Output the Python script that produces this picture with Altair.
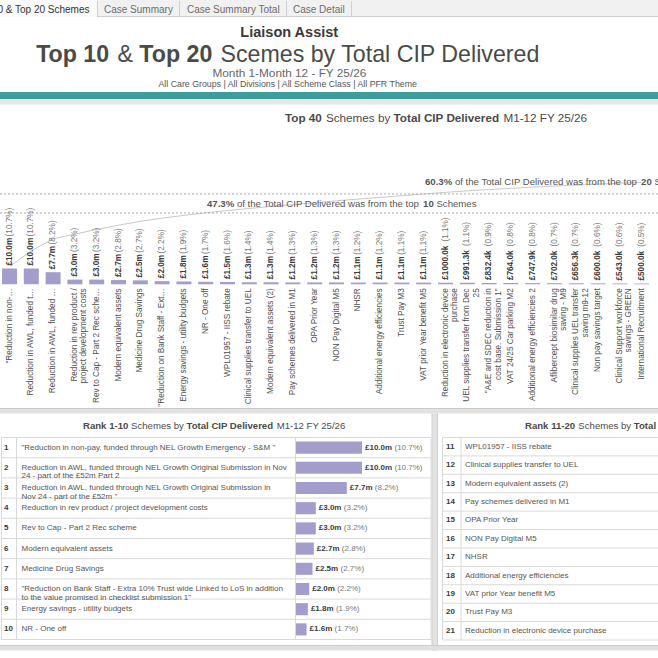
import altair as alt
import pandas as pd

FONT = "Liberation Sans"

# ---------------- data ----------------
tabs = ["Top 10 & Top 20 Schemes", "Case Summary", "Case Summary Total", "Case Detail"]

ranks = list(range(1, 31))
scheme_labels = [
    '"Reduction in non-…',
    'Reduction in AWL, funded t…',
    'Reduction in AWL, funded …',
    'Reduction in rev product /\nproject development costs',
    'Rev to Cap - Part 2 Rec sche…',
    'Modern equivalent assets',
    'Medicine Drug Savings',
    '"Reduction on Bank Staff - Ext…',
    'Energy savings - utility budgets',
    'NR - One off',
    'WPL01957 - IISS rebate',
    'Clinical supplies transfer to UEL',
    'Modern equivalent assets (2)',
    'Pay schemes delivered in M1',
    'OPA Prior Year',
    'NON Pay Digital M5',
    'NHSR',
    'Additional energy efficiencies',
    'Trust Pay M3',
    'VAT prior Year benefit  M5',
    'Reduction in electronic device\npurchase',
    'UEL supplies transfer from Dec\n25',
    '"A&E and SDEC reduction in\ncost base. Submission 1"',
    'VAT 24/25 Car parking M2',
    'Additional energy efficiencies 2',
    'Aflibercept biosimilar drug\nsaving - M9',
    'Clinical supplies UEL transfer\nsaving m9-12',
    'Non pay savings target',
    'Clinical Support workforce\nsavings - GREEN',
    'International Recruitment',
]
values_m = [10.0, 10.0, 7.7, 3.0, 3.0, 2.7, 2.5, 2.0, 1.8, 1.6,
            1.5, 1.3, 1.3, 1.2, 1.2, 1.2, 1.1, 1.1, 1.1, 1.1,
            1.0, 0.9913, 0.8324, 0.764, 0.7479, 0.702, 0.6563, 0.600, 0.543, 0.500]
value_text = ["£10.0m", "£10.0m", "£7.7m", "£3.0m", "£3.0m", "£2.7m", "£2.5m", "£2.0m", "£1.8m", "£1.6m",
              "£1.5m", "£1.3m", "£1.3m", "£1.2m", "£1.2m", "£1.2m", "£1.1m", "£1.1m", "£1.1m", "£1.1m",
              "£1000.0k", "£991.3k", "£832.4k", "£764.0k", "£747.9k", "£702.0k", "£656.3k", "£600.0k",
              "£543.0k", "£500.0k"]
pct_share = [10.7, 10.7, 8.2, 3.2, 3.2, 2.8, 2.7, 2.2, 1.9, 1.7,
             1.6, 1.4, 1.4, 1.3, 1.3, 1.3, 1.2, 1.2, 1.1, 1.1,
             1.1, 1.1, 0.9, 0.8, 0.8, 0.7, 0.7, 0.6, 0.6, 0.5]
total_cip_m = 93.5
ref_top_n = [10, 20]
ref_share = [47.3, 60.3]

table1_ranks = list(range(1, 11))
table1_names = [
    '"Reduction in non-pay, funded through NEL Growth Emergency - S&M "',
    'Reduction in AWL, funded through NEL Growth Original Submission in Nov\n24 - part of the £52m  Part 2',
    'Reduction in AWL, funded through NEL Growth Original Submission in\nNov 24 - part of the £52m "',
    'Reduction in rev product / project development costs',
    'Rev to Cap - Part 2 Rec scheme',
    'Modern equivalent assets',
    'Medicine Drug Savings',
    '"Reduction on Bank Staff - Extra 10% Trust wide Linked to LoS in addition\nto the value promised in checklist submission 1"',
    'Energy savings - utility budgets',
    'NR - One off',
]
table2_ranks = list(range(11, 22))
table2_names = [
    'WPL01957 - IISS rebate', 'Clinical supplies transfer to UEL', 'Modern equivalent assets (2)',
    'Pay schemes delivered in M1', 'OPA Prior Year', 'NON Pay Digital M5', 'NHSR',
    'Additional energy efficiencies', 'VAT prior Year benefit  M5', 'Trust Pay M3',
    'Reduction in electronic device purchase',
]

# ---------------- text width helper (Arial metrics) ----------------
def _table(groups):
    d = {}
    for chars, w in groups:
        for c in chars:
            d[c] = w
    return d

REG = _table([
    ("0123456789abdeghnopquL£?$#", 556), (" !,./:;ftI", 278), ("ijl'", 222), ("-()r", 333),
    ("cksvxyzJ", 500), ("+=<>", 584), ("FTZ", 611), ("ABEKPSVXY&", 667), ("CDHNRUw", 722),
    ("GOQ", 778), ("Mm", 833), ("%", 889), ("W", 944), ('"', 355), ("|", 260), ("…", 1000)])
BOLD = _table([
    ("0123456789acekvsxy£J", 556), (" ,./;Iijl", 278), ("-()tf!:", 333), ("r", 389), ('"', 474),
    ("z", 500), ("bdghnopquFTZL", 611), ("EPSVXY", 667), ("ABCDHKNRU&", 722), ("GOQw", 778),
    ("M", 833), ("m%", 889), ("W", 944), ("|", 280), ("…", 1000)])


def tw(s, size, bold=False):
    t = BOLD if bold else REG
    return sum(t.get(c, 556) for c in s) * size / 1000.0


one = pd.DataFrame({"k": [0]})


def rect(x, x2, y, y2, color):
    return alt.Chart(one).mark_rect(color=color).encode(
        x=alt.value(x), x2=alt.value(x2), y=alt.value(y), y2=alt.value(y2))


def hline(x, x2, y, color, width=1.0, dash=None):
    kw = dict(color=color, strokeWidth=width)
    if dash:
        kw["strokeDash"] = dash
    return alt.Chart(one).mark_rule(**kw).encode(x=alt.value(x), x2=alt.value(x2), y=alt.value(y))


def vline(x, y, y2, color, width=1.0):
    return alt.Chart(one).mark_rule(color=color, strokeWidth=width).encode(
        x=alt.value(x), y=alt.value(y), y2=alt.value(y2))


def rich(pieces, x0, size, color, y_enc, data=None, dy=0, center=False):
    total = sum(tw(t, size, b) for t, b in pieces)
    cur = x0 - total / 2.0 if center else x0
    out = []
    for t, b in pieces:
        lead = len(t) - len(t.lstrip(" "))
        px = cur + tw(" " * lead, size, b)
        out.append(
            alt.Chart(one if data is None else data).mark_text(
                text=t.strip(" "), font=FONT, fontSize=size,
                fontWeight="bold" if b else "normal", color=color,
                align="left", baseline="alphabetic", dy=dy,
            ).encode(x=alt.value(px), y=y_enc)
        )
        cur += tw(t, size, b)
    return out


layers = []

# ---------------- page chrome ----------------
layers.append(rect(0, 658, 0, 17, "#f1f1f1"))
layers.append(rect(0, 97, 0, 17, "#fbfbfb"))
layers.append(hline(97, 658, 16.5, "#cdcdcd"))
for xs in [97, 179, 286, 351]:
    layers.append(vline(xs + 0.5, 1, 16.5, "#d0d0d0"))
layers.append(alt.Chart(one).mark_text(text=tabs[0], font=FONT, fontSize=10, color="#333333",
                                       align="right", baseline="alphabetic")
              .encode(x=alt.value(89.5), y=alt.value(12.5)))
for t, xs in zip(tabs[1:], [104, 187, 293]):
    layers.append(alt.Chart(one).mark_text(text=t, font=FONT, fontSize=10, color="#6d6d6d",
                                           align="left", baseline="alphabetic")
                  .encode(x=alt.value(xs), y=alt.value(12.5)))

layers += rich([("Liaison Assist", True)], 289.5, 14.5, "#3a3a3a", alt.value(37.3), center=True)
layers += rich([("Top 10", True), (" & ", False), ("Top 20", True), (" Scemes by Total CIP Delivered", False)],
               289.5, 23.2, "#4a4a4a", alt.value(61.5), center=True)
layers += rich([("Month 1-Month 12 - FY 25/26", False)], 289.5, 11.8, "#666666", alt.value(76.5), center=True)
layers += rich([("All Care Groups | All Divisions | All Scheme Class | All PFR Theme", False)],
               288.5, 8.8, "#555555", alt.value(87), center=True)

layers.append(rect(0, 658, 92, 99, "#3b9d9c"))
layers.append(rect(0, 658, 99, 104.5, "#e6e6e6"))
layers.append(rect(0, 658, 408, 413.5, "#e3e3e3"))
layers.append(hline(0, 658, 408.5, "#c9c9c9"))
layers.append(rect(432, 437.5, 413.5, 651, "#e3e3e3"))
layers.append(rect(0, 658, 645.5, 650.5, "#e0e0e0"))
layers.append(vline(432, 413.5, 646, "#cfcfcf"))
layers.append(vline(437.5, 413.5, 646, "#cfcfcf"))
layers.append(hline(0, 658, 645.5, "#cccccc"))

# ---------------- Top 40 bar chart ----------------
BASE = 284.3
PX_PER_M = 1.57
CUM_BASE = 282.1
PX_PER_PCT = 1.4615


def XB():
    return alt.Scale(domain=[0.5, 30.5], range=[-1.4, 652.6], nice=False, zero=False)


def YB():
    return alt.Scale(domain=[0, 100], range=[BASE, BASE - 100 * PX_PER_M], nice=False, zero=False)


def YC():
    return alt.Scale(domain=[0, 100], range=[CUM_BASE, CUM_BASE - 100 * PX_PER_PCT], nice=False, zero=False)


layers += rich([("Top 40", True), (" Schemes by ", False), ("Total CIP Delivered", True), (" M1-12 FY 25/26", False)],
               285, 11.7, "#4a4a4a", alt.value(122))

bars_df = pd.DataFrame({"rank": ranks, "label": scheme_labels, "value": values_m,
                        "vtxt": value_text, "pct": pct_share})
ref_df = pd.DataFrame({"share": ref_share, "n": ref_top_n})

layers.append(
    alt.Chart(bars_df)
    .transform_window(cum="sum(value)", sort=[alt.SortField("rank")])
    .transform_calculate(cum_pct=f"datum.cum / {total_cip_m} * 100")
    .mark_line(color="#c8c8c8", strokeWidth=1)
    .encode(x=alt.X("rank:Q", scale=XB(), axis=None), y=alt.Y("cum_pct:Q", scale=YC(), axis=None))
)
layers.append(
    alt.Chart(ref_df).mark_rule(color="#aaaaaa", strokeDash=[2, 2], strokeWidth=1)
    .encode(y=alt.Y("share:Q", scale=YC(), axis=None), x=alt.value(0), x2=alt.value(658))
)
for i, (x0, dy) in enumerate([(207, -5.6), (425, -9.3)]):
    sub = ref_df.iloc[[i]]
    layers += rich([(f"{ref_share[i]}%", True), (" of the Total CIP Delivered was from the top ", False),
                    (f"{ref_top_n[i]}", True), (" Schemes", False)],
                   x0, 9.6, "#555555", alt.Y("share:Q", scale=YC(), axis=None), data=sub, dy=dy)

BAR = "#a39dcc"
layers.append(
    alt.Chart(bars_df)
    .transform_calculate(x0="datum.rank - 0.344", x1="datum.rank + 0.344", zero="0")
    .mark_rect(color=BAR)
    .encode(x=alt.X("x0:Q", scale=XB(), axis=None), x2="x1:Q",
            y=alt.Y("value:Q", scale=YB(), axis=None), y2="zero:Q")
)
layers.append(
    alt.Chart(bars_df)
    .mark_text(font=FONT, fontSize=8.2, fontWeight="bold", color="#3c3c3c", angle=270,
               align="left", baseline="middle", dx=3)
    .encode(x=alt.X("rank:Q", scale=XB(), axis=None), y=alt.Y("value:Q", scale=YB(), axis=None),
            text="vtxt:N")
)
layers.append(
    alt.Chart(bars_df)
    .transform_calculate(py=f"datum.value + (length(datum.vtxt) * 4.5 + 2.2) / {PX_PER_M}",
                         ptxt="'(' + format(datum.pct, '.1f') + '%)'")
    .mark_text(font=FONT, fontSize=8.2, color="#777777", angle=270, align="left", baseline="middle", dx=3)
    .encode(x=alt.X("rank:Q", scale=XB(), axis=None), y=alt.Y("py:Q", scale=YB(), axis=None),
            text="ptxt:N")
)
layers.append(
    alt.Chart(bars_df)
    .transform_calculate(zero="0")
    .mark_text(font=FONT, fontSize=8.2, color="#4f4f4f", angle=270, align="right", baseline="middle",
               dx=-4, lineBreak="\n", lineHeight=9.5)
    .encode(x=alt.X("rank:Q", scale=XB(), axis=None), y=alt.Y("zero:Q", scale=YB(), axis=None),
            text="label:N")
)

# ---------------- Rank 1-10 table ----------------
GRID = "#d9d9d9"


def Y1():
    return alt.Scale(domain=[0.5, 10.5], range=[437.5, 639.5], nice=False, zero=False)


def X1():
    return alt.Scale(domain=[0, 10], range=[296, 362], nice=False, zero=False)


layers += rich([("Rank 1-10", True), (" Schemes by ", False), ("Total CIP Delivered", True), (" M1-12 FY 25/26", False)],
               83, 9.6, "#4a4a4a", alt.value(428.5))
layers += rich([("Rank 11-20", True), (" Schemes by ", False), ("Total CIP Delivered", True), (" M1-12 FY 25/26", False)],
               525, 9.6, "#4a4a4a", alt.value(428.5))

t1 = pd.DataFrame({"rank": table1_ranks, "name": table1_names, "value": values_m[:10],
                   "vtxt": value_text[:10], "pct": pct_share[:10]})

layers.append(hline(1.5, 431, 437.5, GRID))
layers.append(
    alt.Chart(t1).transform_calculate(yb="datum.rank + 0.5")
    .mark_rule(color=GRID, strokeWidth=1)
    .encode(y=alt.Y("yb:Q", scale=Y1(), axis=None), x=alt.value(1.5), x2=alt.value(431))
)
for xs in [1.5, 16.5, 295.5, 431]:
    layers.append(vline(xs, 437.5, 639.5, GRID))

layers.append(
    alt.Chart(t1).mark_text(font=FONT, fontSize=8, fontWeight="bold", color="#3a3a3a", align="left",
                            baseline="middle")
    .encode(x=alt.value(4), y=alt.Y("rank:Q", scale=Y1(), axis=None), text="rank:N")
)
layers.append(
    alt.Chart(t1).mark_text(font=FONT, fontSize=8, color="#555555", align="left", baseline="middle",
                            lineBreak="\n", lineHeight=8.6)
    .encode(x=alt.value(21.5), y=alt.Y("rank:Q", scale=Y1(), axis=None), text="name:N")
)
layers.append(
    alt.Chart(t1).transform_calculate(y0="datum.rank - 0.3", y1="datum.rank + 0.3", zero="0")
    .mark_rect(color=BAR)
    .encode(x=alt.X("zero:Q", scale=X1(), axis=None), x2="value:Q",
            y=alt.Y("y0:Q", scale=Y1(), axis=None), y2="y1:Q")
)
layers.append(
    alt.Chart(t1).mark_text(font=FONT, fontSize=8, fontWeight="bold", color="#3c3c3c", align="left",
                            baseline="middle", dx=3)
    .encode(x=alt.X("value:Q", scale=X1(), axis=None), y=alt.Y("rank:Q", scale=Y1(), axis=None),
            text="vtxt:N")
)
layers.append(
    alt.Chart(t1)
    .transform_calculate(px="datum.value + (length(datum.vtxt) * 4.5 + 2.5) / 6.6",
                         ptxt="'(' + format(datum.pct, '.1f') + '%)'")
    .mark_text(font=FONT, fontSize=8, color="#777777", align="left", baseline="middle", dx=3)
    .encode(x=alt.X("px:Q", scale=X1(), axis=None), y=alt.Y("rank:Q", scale=Y1(), axis=None),
            text="ptxt:N")
)

# ---------------- Rank 11-20 table ----------------
def Y2():
    return alt.Scale(domain=[10.5, 21.5], range=[437.5, 640], nice=False, zero=False)


t2 = pd.DataFrame({"rank": table2_ranks, "name": table2_names})
layers.append(hline(442.5, 658, 437.5, GRID))
layers.append(
    alt.Chart(t2).transform_calculate(yb="datum.rank + 0.5")
    .mark_rule(color=GRID, strokeWidth=1)
    .encode(y=alt.Y("yb:Q", scale=Y2(), axis=None), x=alt.value(442.5), x2=alt.value(658))
)
for xs in [442.5, 461]:
    layers.append(vline(xs, 437.5, 640, GRID))
layers.append(
    alt.Chart(t2).mark_text(font=FONT, fontSize=8, fontWeight="bold", color="#3a3a3a", align="left",
                            baseline="middle")
    .encode(x=alt.value(446), y=alt.Y("rank:Q", scale=Y2(), axis=None), text="rank:N")
)
layers.append(
    alt.Chart(t2).mark_text(font=FONT, fontSize=8, color="#555555", align="left", baseline="middle")
    .encode(x=alt.value(465), y=alt.Y("rank:Q", scale=Y2(), axis=None), text="name:N")
)

chart = (
    alt.layer(*layers)
    .resolve_scale(x="independent", y="independent")
    .properties(width=658, height=658, autosize=alt.AutoSizeParams(type="none"), padding=0,
                background="#ffffff")
    .configure_view(stroke=None)
)
chart.save("out.html", embed_options={"renderer": "svg", "actions": False})
